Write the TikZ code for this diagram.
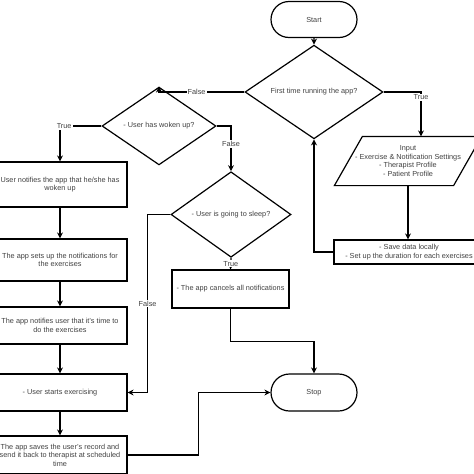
\documentclass[tikz,border=0pt]{standalone}
\usepackage{fontspec}
\setmainfont{Liberation Sans}
\usetikzlibrary{arrows.meta,shapes.geometric,shapes.misc}

\begin{document}
\begin{tikzpicture}[x=1pt,y=-1pt,line width=1.2pt,>={Stealth[length=6pt,width=6pt]},
	every node/.style={font=\fontsize{7.3}{8.6}\selectfont,text=black!75,align=center,inner sep=0pt},
	proc/.style={draw,rectangle},
	dec/.style={draw,diamond},
	term/.style={draw,rounded rectangle,minimum width=86,minimum height=36},
	lbl/.style={fill=white,inner sep=1pt}]

	\clip (0,0) rectangle (474,474);

	\node[term] (start) at (314,19.5) {Start};
	\node[dec,minimum width=138,minimum height=60] (dec1) at (314,92) {First time running the app?};
	\node[dec,minimum width=114,minimum height=48] (dec2) at (159,126) {- User has woken up?};
	\node[dec,minimum width=120,minimum height=49] (dec3) at (231,214.5) {- User is going to sleep?};

	\node[minimum width=118,minimum height=48] (in) at (408,161) {Input\\- Exercise \& Notification Settings\\- Therapist Profile\\- Patient Profile};
	\draw ([xshift=14]in.north west) -- ([xshift=14]in.north east) -- ([xshift=-14]in.south east) -- ([xshift=-14]in.south west) -- cycle;
	\node[proc,minimum width=150,minimum height=24] (save) at (409,252) {- Save data locally\\- Set up the duration for each exercises};

	\node[proc,minimum width=134,minimum height=45] (woke) at (60,184.5) {User notifies the app that he/she has\\woken up};
	\node[proc,minimum width=134,minimum height=42] (setup) at (60,260) {The app sets up the notifications for\\the exercises};
	\node[proc,minimum width=134,minimum height=37] (notify) at (60,325.5) {The app notifies user that it's time to\\do the exercises};
	\node[proc,minimum width=134,minimum height=37] (exer) at (60,392.5) {- User starts exercising};
	\node[proc,minimum width=134,minimum height=38] (record) at (60,455) {The app saves the user's record and\\send it back to therapist at scheduled\\time};

	\node[proc,minimum width=117,minimum height=38] (cancel) at (230.5,289) {- The app cancels all notifications};
	\node[term,minimum height=37] (stop) at (314,392.5) {Stop};

	\draw[->] (start) -- (dec1);
	\draw[->] (dec1.west) -| node[lbl,pos=0.28] {False} (dec2.north);
	\draw[->] (dec1.east) -| node[lbl,pos=0.56] {True} ([xshift=13]in.north);
	\draw[->] (in.south) -- (in.south |- save.north);
	\draw[->] (save.west) -| (dec1.south);

	\draw[->] (dec2.west) -| node[lbl,pos=0.45] {True} (woke.north);
	\draw[->] (dec2.east) -| node[lbl,pos=0.7] {False} (dec3.north);
	\draw[->] (dec3.south) -- node[lbl] {True} (cancel.north);
	\draw[->] (dec3.west) -| node[lbl,pos=0.75] {False} ([xshift=20]exer.east) -- (exer.east);

	\draw[->] (woke) -- (setup);
	\draw[->] (setup) -- (notify);
	\draw[->] (notify) -- (exer);
	\draw[->] (exer) -- (record);

	\draw[->] (cancel.south) -- ++(0,33) -| (stop.north);
	\draw[->] (record.east) -| ([xshift=-72]stop.west) -- (stop.west);
\end{tikzpicture}
\end{document}
